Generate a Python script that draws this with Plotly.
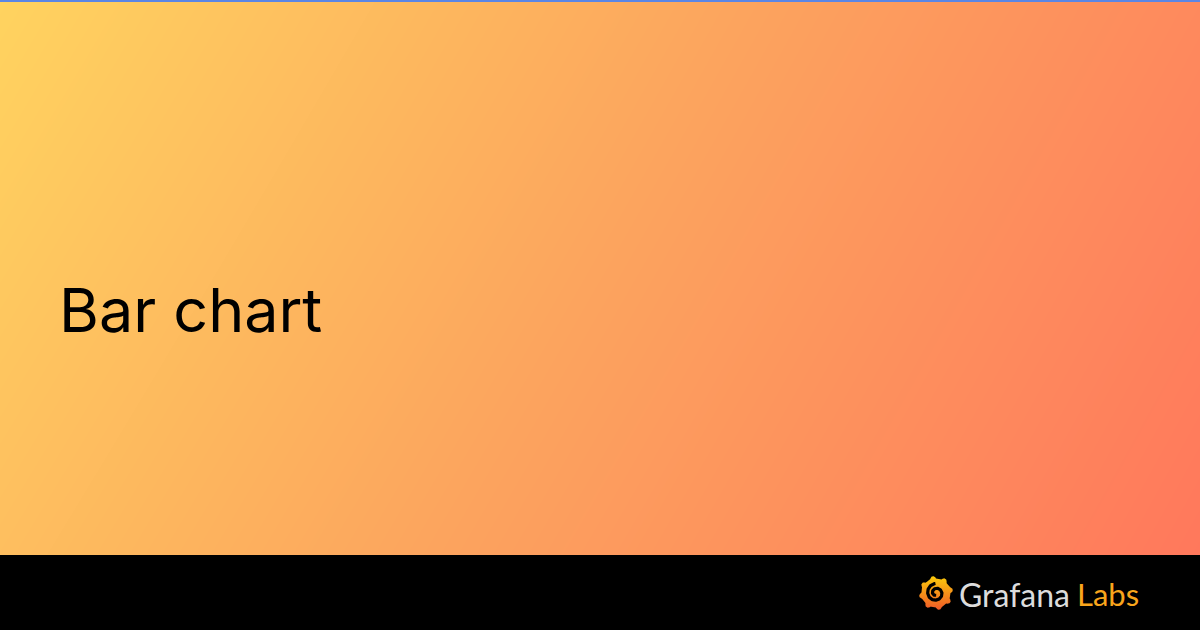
import numpy as np
import plotly.graph_objects as go

# gradient corners (position along the colour ramp)
grad_x = [0, 1200]
grad_y = [0, 555]
grad_t = [[0.0, 0.80],
          [0.22, 1.0]]
grad_colors = [[0.0, "#FFD35F"], [0.5, "#FCA45E"], [1.0, "#FF785C"]]

title_text = "Bar chart"
brand_left = "Grafana"
brand_right = "Labs"

W, H = 1200, 630
FOOT = 75

fig = go.Figure()

# background gradient
fig.add_trace(go.Heatmap(
    x=grad_x, y=grad_y, z=grad_t,
    colorscale=grad_colors, zmin=0, zmax=1,
    zsmooth="best", showscale=False, hoverinfo="skip",
))

# logo: gear outline + spiral
cx, cy = 936, 593
ang = np.linspace(0, 2 * np.pi, 400)
r = 14.5 + 2.6 * np.clip(np.cos(8 * (ang + 0.2)), 0, 1) ** 0.6
fig.add_trace(go.Scatter(
    x=cx + r * np.cos(ang), y=cy + r * np.sin(ang),
    mode="lines", line=dict(width=0), fill="toself",
    fillgradient=dict(type="vertical",
                      colorscale=[[0, "#F05A28"], [1, "#FBCA0A"]]),
    xaxis="x2", yaxis="y2", hoverinfo="skip", showlegend=False,
))
th = np.linspace(0.3, 2 * np.pi * 1.55, 200)
rs = 2.0 + 7.5 * (th / th.max())
fig.add_trace(go.Scatter(
    x=cx + rs * np.cos(th + 1.2), y=cy + rs * np.sin(th + 1.2),
    mode="lines", line=dict(color="black", width=3.2),
    xaxis="x2", yaxis="y2", hoverinfo="skip", showlegend=False,
))

fig.add_annotation(text=title_text, xref="paper", yref="paper",
                   x=57 / W, y=1 - 310 / H, xanchor="left", yanchor="middle",
                   showarrow=False,
                   font=dict(family="Inter", size=61, color="#000000"))
fig.add_annotation(text=brand_left, xref="paper", yref="paper",
                   x=957 / W, y=1 - 594 / H, xanchor="left", yanchor="middle",
                   showarrow=False,
                   font=dict(family="Lato", size=32, color="#DCDCDC"))
fig.add_annotation(text=brand_right, xref="paper", yref="paper",
                   x=1075 / W, y=1 - 594 / H, xanchor="left", yanchor="middle",
                   showarrow=False,
                   font=dict(family="Lato", size=31, color="#F9A51C"))

# thin blue strip along the top
fig.add_shape(type="rect", xref="paper", yref="paper",
              x0=0, x1=1, y0=1 - 2 / H, y1=1,
              fillcolor="#5B86E5", line_width=0, layer="above")

fig.update_layout(
    width=W, height=H,
    margin=dict(l=0, r=0, t=0, b=0),
    paper_bgcolor="#000000", plot_bgcolor="#000000",
    showlegend=False,
    xaxis=dict(range=[0, W], visible=False, fixedrange=True),
    yaxis=dict(range=[H - FOOT, 0], domain=[FOOT / H, 1],
               visible=False, fixedrange=True),
    xaxis2=dict(range=[0, W], visible=False, anchor="y2", fixedrange=True),
    yaxis2=dict(range=[H, H - FOOT], domain=[0, FOOT / H],
                visible=False, anchor="x2", fixedrange=True),
)

fig.write_html("out.html", config={"displayModeBar": False},
               post_script="document.body.style.margin='0';"
                           "document.body.style.overflow='hidden';")
